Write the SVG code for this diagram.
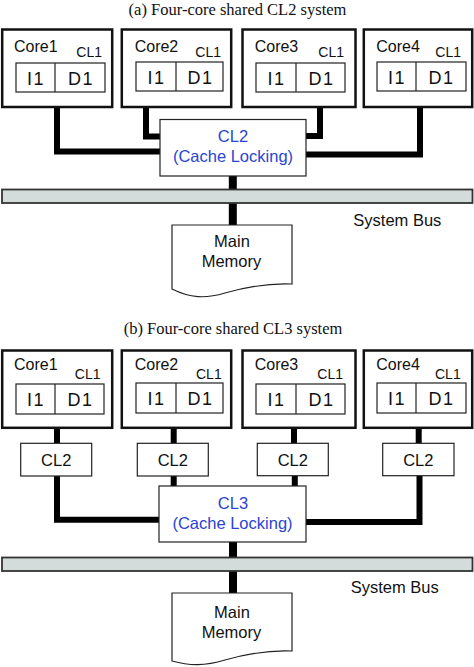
<svg xmlns="http://www.w3.org/2000/svg" width="474" height="667" viewBox="0 0 474 667">
<style>
  .title{font-family:"Liberation Serif","Times New Roman",serif;font-size:16.5px;fill:#111;text-anchor:middle}
  .lbl{font-family:"Liberation Sans",Arial,sans-serif;fill:#111}
  .core{font-size:16px}
  .cl1{font-size:14px;text-anchor:end}
  .id{font-size:18px;text-anchor:middle;letter-spacing:1.5px}
  .mid{font-size:16.5px;text-anchor:middle}
  .blue{fill:#2a44d4}
  .corebox{fill:#fff;stroke:#111;stroke-width:2.5}
  .thin{fill:#fff;stroke:#222;stroke-width:1.2}
  .bus{fill:#d4dbdb;stroke:#333;stroke-width:1.8}
  .wire{fill:none;stroke:#000;stroke-width:6;stroke-linejoin:miter;stroke-linecap:butt}
  .buswire{fill:none;stroke:#000;stroke-width:8;stroke-linecap:butt}
</style>

<text class="title" x="237.5" y="14.5">(a) Four-core shared CL2 system</text>
<text class="title" x="233" y="333.5">(b) Four-core shared CL3 system</text>

<!-- connectors -->
<g id="connectors">
  <path class="wire" d="M57,107 V151.5 H160"/>
  <path class="wire" d="M146,107 V136.5 H160"/>
  <path class="wire" d="M320,107 V136 H306"/>
  <path class="wire" d="M420,107 V154.5 H306"/>
  <path class="buswire" d="M232.8,176 V189.5"/>
  <path class="buswire" d="M232.8,203 V225"/>

  <path class="wire" d="M57,428 V443.3"/>
  <path class="wire" d="M173.7,428 V443.3"/>
  <path class="wire" d="M294,428 V443.3"/>
  <path class="wire" d="M418.7,428 V443.3"/>
  <path class="wire" d="M57,476 V519.7 H159"/>
  <path class="wire" d="M173.7,476 V486"/>
  <path class="wire" d="M294.8,476 V486"/>
  <path class="wire" d="M419.5,476 V522 H306"/>
  <path class="buswire" d="M233,542 V557.5"/>
  <path class="buswire" d="M233,571 V593"/>
</g>

<!-- (a) cores -->
<g id="a-core1">
  <rect class="corebox" x="2.2" y="29.5" width="110" height="77.5"/>
  <text class="lbl core" x="14" y="51.7">Core1</text>
  <text class="lbl cl1" x="102" y="57">CL1</text>
  <rect class="thin" x="16" y="63" width="89" height="29"/>
  <line x1="55" y1="63" x2="55" y2="92" stroke="#222" stroke-width="1.2"/>
  <text class="lbl id" x="36" y="84.5">I1</text>
  <text class="lbl id" x="81" y="84.5">D1</text>
</g>
<g id="a-core2">
  <rect class="corebox" x="121.8" y="29.5" width="109.4" height="77.5"/>
  <text class="lbl core" x="134.7" y="51.7">Core2</text>
  <text class="lbl cl1" x="221" y="57">CL1</text>
  <rect class="thin" x="136" y="62" width="87" height="29"/>
  <line x1="176" y1="62" x2="176" y2="91" stroke="#222" stroke-width="1.2"/>
  <text class="lbl id" x="156.5" y="83.5">I1</text>
  <text class="lbl id" x="200.5" y="83.5">D1</text>
</g>
<g id="a-core3">
  <rect class="corebox" x="242.5" y="29.5" width="113" height="77.5"/>
  <text class="lbl core" x="254.7" y="51.7">Core3</text>
  <text class="lbl cl1" x="344" y="57">CL1</text>
  <rect class="thin" x="256" y="63" width="89" height="29"/>
  <line x1="296" y1="63" x2="296" y2="92" stroke="#222" stroke-width="1.2"/>
  <text class="lbl id" x="276.5" y="84.5">I1</text>
  <text class="lbl id" x="321.5" y="84.5">D1</text>
</g>
<g id="a-core4">
  <rect class="corebox" x="363.8" y="29.5" width="108.4" height="77.5"/>
  <text class="lbl core" x="376.3" y="51.7">Core4</text>
  <text class="lbl cl1" x="461" y="57">CL1</text>
  <rect class="thin" x="377" y="62" width="89" height="29"/>
  <line x1="416" y1="62" x2="416" y2="91" stroke="#222" stroke-width="1.2"/>
  <text class="lbl id" x="397" y="83.5">I1</text>
  <text class="lbl id" x="441.5" y="83.5">D1</text>
</g>

<g id="a-cl2">
  <rect class="thin" x="160" y="119.5" width="146" height="56.5"/>
  <text class="lbl mid blue" x="233" y="141.5">CL2</text>
  <text class="lbl mid blue" x="233" y="161.7">(Cache Locking)</text>
</g>

<g id="a-bus">
  <rect class="bus" x="2" y="189.5" width="470.5" height="13.5"/>
  <text class="lbl mid" x="353.3" y="226" style="text-anchor:start">System Bus</text>
</g>

<g id="a-memory">
  <path class="thin" d="M172,225 H292 V284 C270,283 250,286 225,293 C205,299 190,298 172,289 Z"/>
  <text class="lbl mid" x="232" y="247.3">Main</text>
  <text class="lbl mid" x="231.5" y="266.7">Memory</text>
</g>

<!-- (b) cores -->
<g id="b-core1">
  <rect class="corebox" x="2.2" y="350.5" width="110" height="77.3"/>
  <text class="lbl core" x="14" y="370">Core1</text>
  <text class="lbl cl1" x="100.5" y="379">CL1</text>
  <rect class="thin" x="16" y="384" width="88" height="30"/>
  <line x1="55" y1="384" x2="55" y2="414" stroke="#222" stroke-width="1.2"/>
  <text class="lbl id" x="36" y="405.5">I1</text>
  <text class="lbl id" x="80.5" y="405.5">D1</text>
</g>
<g id="b-core2">
  <rect class="corebox" x="121.8" y="350.5" width="109.4" height="77.3"/>
  <text class="lbl core" x="134.7" y="370">Core2</text>
  <text class="lbl cl1" x="221.7" y="379">CL1</text>
  <rect class="thin" x="136" y="383" width="87" height="30"/>
  <line x1="176" y1="383" x2="176" y2="413" stroke="#222" stroke-width="1.2"/>
  <text class="lbl id" x="156.5" y="404.5">I1</text>
  <text class="lbl id" x="200.5" y="404.5">D1</text>
</g>
<g id="b-core3">
  <rect class="corebox" x="242.5" y="350.5" width="113" height="77.3"/>
  <text class="lbl core" x="254.7" y="370">Core3</text>
  <text class="lbl cl1" x="343" y="379">CL1</text>
  <rect class="thin" x="256" y="384" width="89" height="30"/>
  <line x1="296" y1="384" x2="296" y2="414" stroke="#222" stroke-width="1.2"/>
  <text class="lbl id" x="276.5" y="405.5">I1</text>
  <text class="lbl id" x="321.5" y="405.5">D1</text>
</g>
<g id="b-core4">
  <rect class="corebox" x="363.8" y="350.5" width="108.4" height="77.3"/>
  <text class="lbl core" x="376.3" y="370">Core4</text>
  <text class="lbl cl1" x="460.7" y="379">CL1</text>
  <rect class="thin" x="377" y="383" width="89" height="30"/>
  <line x1="416" y1="383" x2="416" y2="413" stroke="#222" stroke-width="1.2"/>
  <text class="lbl id" x="397" y="404.5">I1</text>
  <text class="lbl id" x="441.5" y="404.5">D1</text>
</g>

<g id="b-cl2-1">
  <rect class="thin" x="20.7" y="443.3" width="71" height="32.7"/>
  <text class="lbl mid" x="56.2" y="465.5">CL2</text>
</g>
<g id="b-cl2-2">
  <rect class="thin" x="137.3" y="443.3" width="71" height="32.7"/>
  <text class="lbl mid" x="172.8" y="465.5">CL2</text>
</g>
<g id="b-cl2-3">
  <rect class="thin" x="257.3" y="443.3" width="71" height="32.4"/>
  <text class="lbl mid" x="292.8" y="465.5">CL2</text>
</g>
<g id="b-cl2-4">
  <rect class="thin" x="382.7" y="443.3" width="71.3" height="32.4"/>
  <text class="lbl mid" x="418.3" y="465.5">CL2</text>
</g>

<g id="b-cl3">
  <rect class="thin" x="159" y="486" width="147" height="56"/>
  <text class="lbl mid blue" x="233" y="509">CL3</text>
  <text class="lbl mid blue" x="232.5" y="529">(Cache Locking)</text>
</g>

<g id="b-bus">
  <rect class="bus" x="2" y="557.5" width="470.5" height="13.5"/>
  <text class="lbl mid" x="350.7" y="593.3" style="text-anchor:start">System Bus</text>
</g>

<g id="b-memory">
  <path class="thin" d="M172,593 H292 V651 C270,650 250,653 225,660 C205,666 190,666 172,661 Z"/>
  <text class="lbl mid" x="232" y="617.7">Main</text>
  <text class="lbl mid" x="231.5" y="638.3">Memory</text>
</g>
</svg>
